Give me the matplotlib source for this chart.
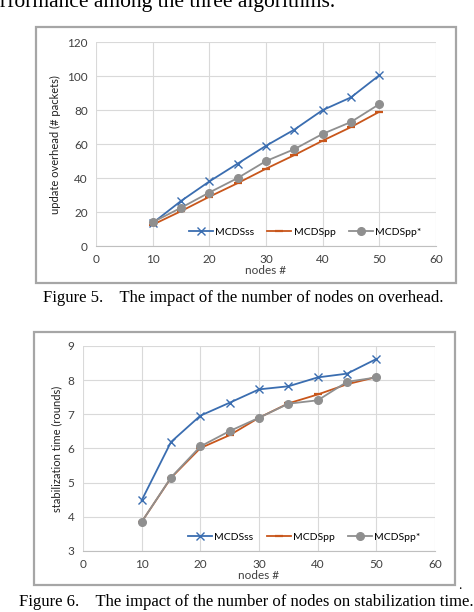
import matplotlib.pyplot as plt
from matplotlib.patches import Rectangle

nodes = [10, 15, 20, 25, 30, 35, 40, 45, 50]
# Figure 5: update overhead (# packets)
ovh_ss = [13.5, 26.5, 38, 48.5, 59, 68.5, 80, 87.5, 100.5]
ovh_pp = [12.5, 20.5, 29, 37, 45.5, 53.5, 62, 70, 79]
ovh_pps = [14, 22.5, 31.5, 40, 50, 57, 66, 73, 83.5]
# Figure 6: stabilization time (rounds)
st_ss = [4.48, 6.19, 6.96, 7.34, 7.73, 7.82, 8.08, 8.19, 8.62]
st_pp = [3.85, 5.14, 6.01, 6.39, 6.9, 7.32, 7.58, 7.88, 8.09]
st_pps = [3.85, 5.15, 6.06, 6.51, 6.9, 7.31, 7.41, 7.95, 8.08]
names = ['MCDSss', 'MCDSpp', 'MCDSpp*']

blue = '#3a6db0'
orange = '#c8561b'
gray = '#8f8f8f'
tickfont = 'Lato'

fig = plt.figure(figsize=(4.74, 6.12), dpi=100)

def frame(x0, y0, x1, y1):
    fig.patches.append(Rectangle((x0, y0), x1 - x0, y1 - y0, transform=fig.transFigure,
                                 fill=False, edgecolor='#a6a6a6', linewidth=1.6))

def chart(rect, ys, ylim, yticks, ylabel):
    ax = fig.add_axes(rect)
    ax.plot(nodes, ys[0], color=blue, lw=1.3, marker='x', ms=5.5, mew=1.0, label=names[0])
    ax.plot(nodes, ys[1], color=orange, lw=1.3, marker='_', ms=6, mew=1.6, label=names[1])
    ax.plot(nodes, ys[2], color=gray, lw=1.3, marker='o', ms=5.5, label=names[2])
    ax.set_xlim(0, 60)
    ax.set_ylim(*ylim)
    ax.set_xticks(range(0, 61, 10))
    ax.set_yticks(yticks)
    ax.grid(True, color='#d9d9d9', lw=0.8)
    ax.set_axisbelow(True)
    for s in ['top', 'right', 'left']:
        ax.spines[s].set_visible(False)
    ax.spines['bottom'].set_color('#bfbfbf')
    ax.tick_params(length=0, labelsize=8.5, labelcolor='#404040', pad=6)
    for t in ax.get_xticklabels() + ax.get_yticklabels():
        t.set_family(tickfont)
    ax.set_xlabel('nodes #', fontsize=8.5, family=tickfont, color='#404040', labelpad=0)
    ax.set_ylabel(ylabel, fontsize=8, family=tickfont, color='#202020', labelpad=4)
    ax.legend(loc='lower right', bbox_to_anchor=(0.985, 0.0), ncol=3, frameon=False,
              handlelength=2.3, columnspacing=1.3, handletextpad=0.2,
              prop={'family': tickfont, 'size': 7.5})
    return ax

frame(0.076, 0.538, 0.962, 0.956)
chart([0.2025, 0.598, 0.717, 0.333], [ovh_ss, ovh_pp, ovh_pps], (0, 120),
      range(0, 121, 20), 'update overhead (# packets)')

frame(0.072, 0.044, 0.960, 0.4575)
chart([0.175, 0.0997, 0.743, 0.335], [st_ss, st_pp, st_pps], (3, 9),
      range(3, 10), 'stabilization time (rounds)')

serif = 'Liberation Serif'
fig.text(0.0, 0.9886, 'rformance among the three algorithms.', family=serif, fontsize=15.5,
         va='baseline', ha='left')
fig.text(0.513, 0.513, 'Figure 5.    The impact of the number of nodes on overhead.',
         family=serif, fontsize=12, ha='center', va='center')
fig.text(0.52, 0.016, 'Figure 6.    The impact of the number of nodes on stabilization time.',
         family=serif, fontsize=12, ha='center', va='center')
fig.text(0.966, 0.038, '.', family=serif, fontsize=10)

fig.savefig('out.png', dpi=100)
